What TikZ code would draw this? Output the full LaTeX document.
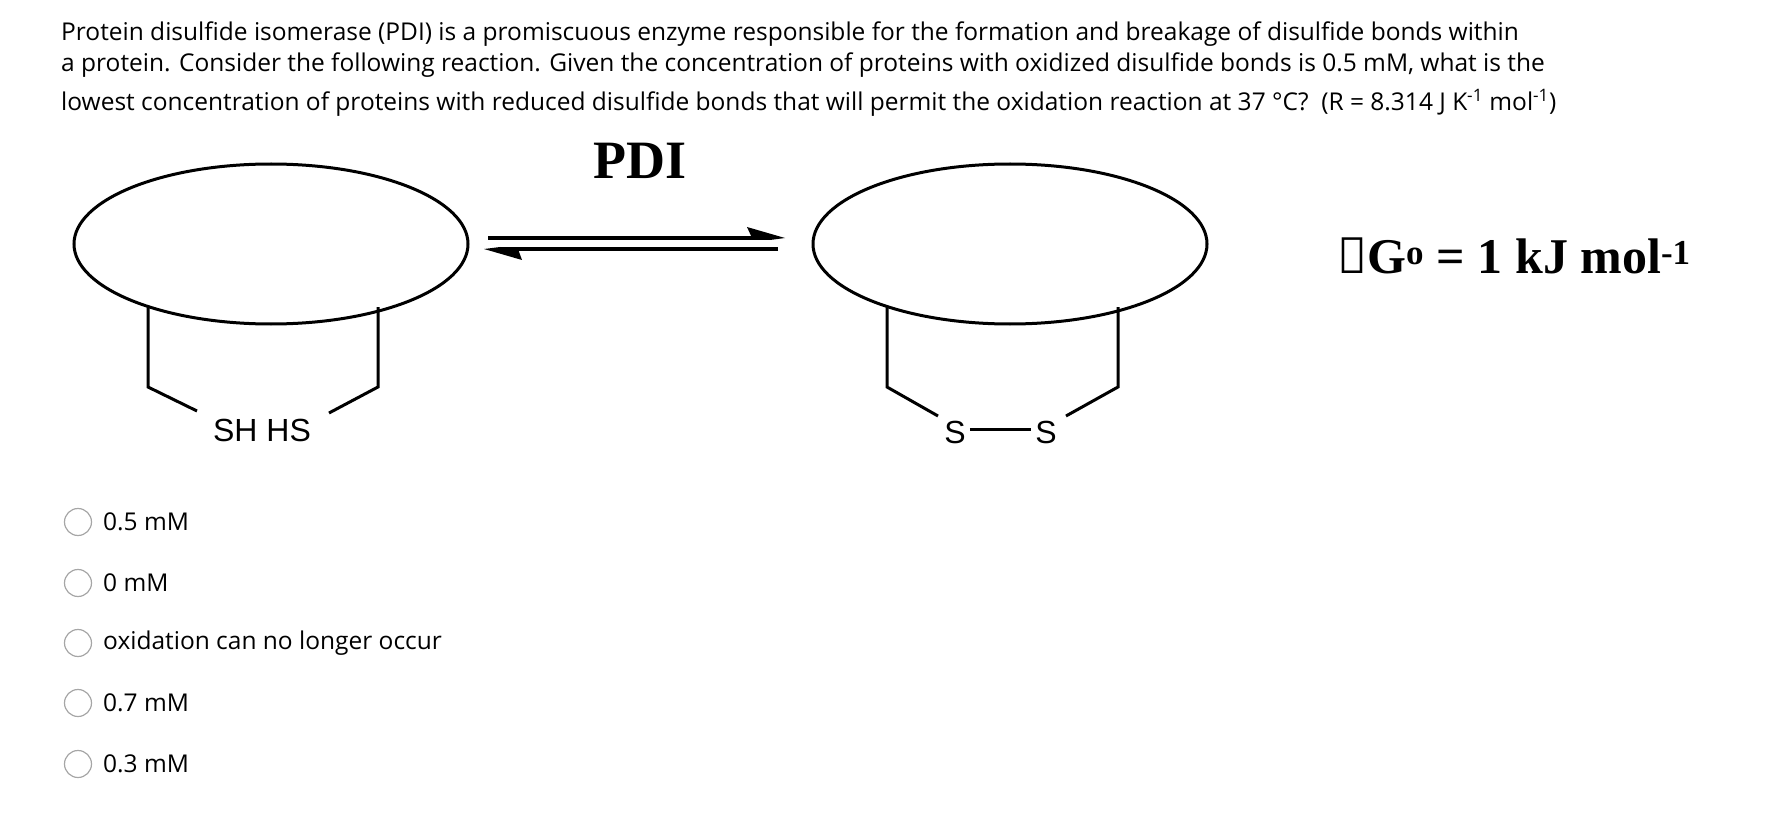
\documentclass[tikz,border=0pt]{standalone}
\usepackage{fontspec}
\usetikzlibrary{calc}
\setmainfont{Open Sans}
\newfontfamily\timesf{Liberation Serif}
\newfontfamily\helv{Liberation Sans}
\begin{document}
\begin{tikzpicture}[x=1pt,y=-1pt,
  body/.style={anchor=west,inner sep=0pt,font=\fontsize{24.5}{29}\selectfont},
  radio/.style={circle,draw=gray!70,line width=1.2pt,minimum size=27pt,inner sep=0pt},
  bond/.style={line width=3pt},
  chem/.style={font=\helv\fontsize{32}{36}\selectfont,inner sep=0pt}]
\useasboundingbox (0,0) rectangle (1789,821);
\node[body] (l1) at (61,34) {Protein disulfide isomerase (PDI) is a promiscuous enzyme responsible for the formation and breakage of disulfide bonds within};
\node[body] (l2) at (61,65) {a protein. Consider the following reaction. Given the concentration of proteins with oxidized disulfide bonds is 0.5 mM, what is the};
\node[body] (l3) at (61,103) {lowest concentration of proteins with reduced disulfide bonds that will permit the oxidation reaction at 37 °C?\ \ (R = 8.314 J K\textsuperscript{-1} mol\textsuperscript{-1})};
\node[font=\timesf\bfseries\fontsize{54}{60}\selectfont] (pdi) at (640,161) {PDI};
\node[font=\timesf\bfseries\fontsize{50}{56}\selectfont] (dg) at (1514,256) {$\mathbf{\Delta}$G\textsuperscript{o} = 1 kJ mol\textsuperscript{-1}};
% left protein
\draw[bond] (271,244) ellipse [x radius=197, y radius=80];
\coordinate (a1) at (148,307); \coordinate (a2) at (148,387); \coordinate (a3) at (197,411);
\coordinate (b1) at (378,307); \coordinate (b2) at (378,387); \coordinate (b3) at (329,413);
\draw[bond] (a1)--(a2)--(a3);
\draw[bond] (b1)--(b2)--(b3);
\node[chem] (shhs) at (262,430) {SH HS};
% right protein
\draw[bond] (1010,244) ellipse [x radius=197, y radius=80];
\coordinate (c1) at (887,307); \coordinate (c2) at (887,387); \coordinate (c3) at (938,416);
\coordinate (d1) at (1118,307); \coordinate (d2) at (1118,387); \coordinate (d3) at (1066,416);
\draw[bond] (c1)--(c2)--(c3);
\draw[bond] (d1)--(d2)--(d3);
\node[chem] (s1) at (955,432) {S};
\node[chem] (s2) at (1046,432) {S};
\draw[bond] ($(s1.east)+(4,-3)$) -- ($(s2.west)+(-4,-3)$);
% arrows
\coordinate (t1) at (488,238); \coordinate (t2) at (785,238);
\coordinate (u1) at (778,249); \coordinate (u2) at (484,249);
\draw[line width=4pt] (t1)--(770,238);
\fill (t2)--(747,227)--(752,238)--(770,240)--cycle;
\draw[line width=4pt] (u1)--(500,249);
\fill (u2)--(522,260)--(518,249)--(500,247)--cycle;
% options
\foreach \y/\t/\n in {522/0.5 mM/o1,583/0 mM/o2,643/oxidation can no longer occur/o3,703/0.7 mM/o4,764/0.3 mM/o5}{
  \node[radio] (\n c) at (78,\y) {};
  \node[body] (\n) at (103,\y) {\t};
}
\end{tikzpicture}
\end{document}
